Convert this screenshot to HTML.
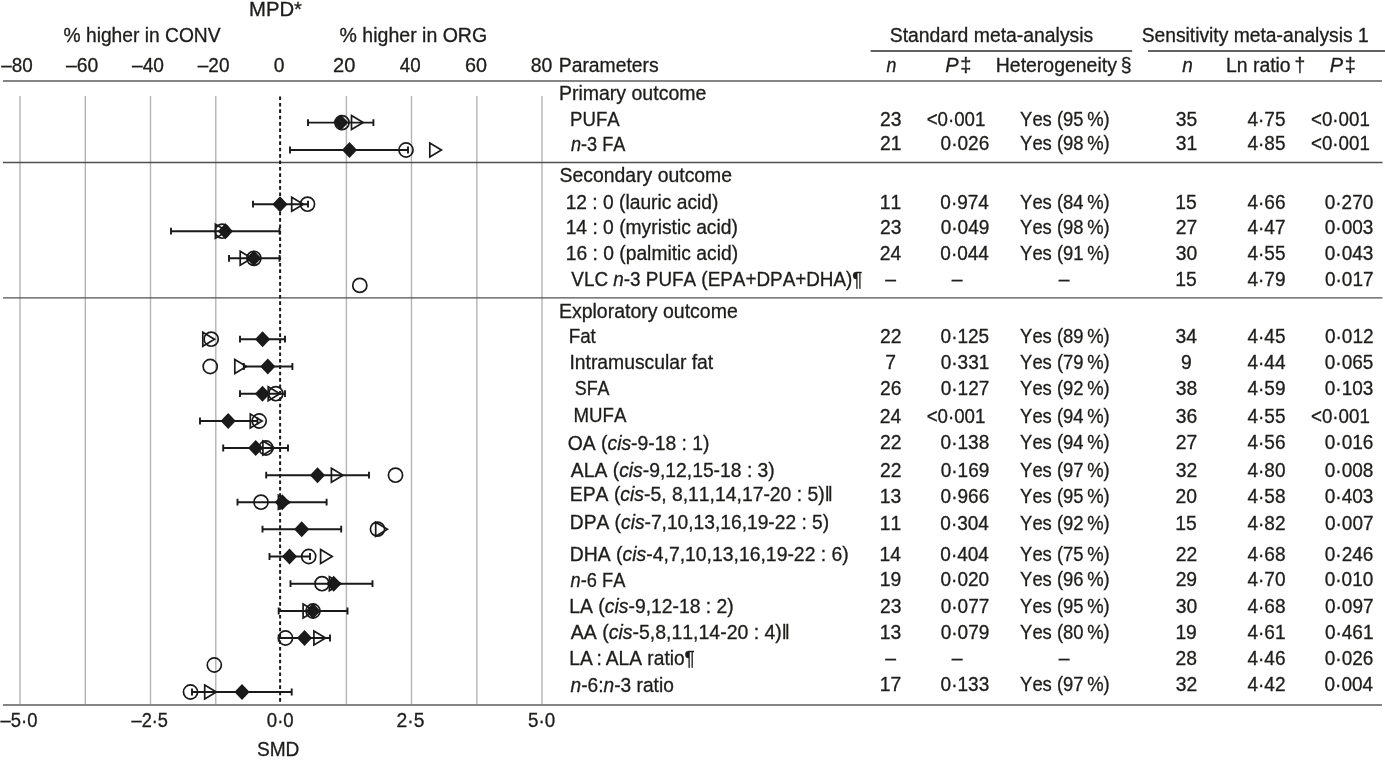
<!DOCTYPE html>
<html lang="en"><head><meta charset="utf-8"><title>Forest plot</title>
<style>
html,body{margin:0;padding:0;background:#fff;}
body{width:1385px;height:761px;overflow:hidden;}
svg{display:block;font-family:"Liberation Sans",sans-serif;}
</style></head><body>
<svg width="1385" height="761" viewBox="0 0 1385 761">
<rect width="1385" height="761" fill="#fff"/>
<g stroke="#b4b4b4" stroke-width="1.4">
<line x1="20.0" y1="96" x2="20.0" y2="705.0"/>
<line x1="85.3" y1="96" x2="85.3" y2="705.0"/>
<line x1="150.5" y1="96" x2="150.5" y2="705.0"/>
<line x1="215.8" y1="96" x2="215.8" y2="705.0"/>
<line x1="346.4" y1="96" x2="346.4" y2="705.0"/>
<line x1="411.5" y1="96" x2="411.5" y2="705.0"/>
<line x1="476.8" y1="96" x2="476.8" y2="705.0"/>
<line x1="542.0" y1="96" x2="542.0" y2="705.0"/>
</g>
<g stroke="#858585" stroke-width="1.8">
<line x1="3" y1="81" x2="1382" y2="81"/>
<line x1="3" y1="705" x2="1382" y2="705"/>
</g>
<g stroke="#505050" stroke-width="1.4">
<line x1="3" y1="162.5" x2="1382.5" y2="162.5"/>
<line x1="3" y1="297.9" x2="1382.5" y2="297.9"/>
<line x1="870.6" y1="51.1" x2="1132.2" y2="51.1" stroke="#2c2c2c" stroke-width="1.5"/>
<line x1="1148" y1="51.1" x2="1385" y2="51.1" stroke="#2c2c2c" stroke-width="1.5"/>
</g>
<line x1="280.1" y1="96.5" x2="280.1" y2="704" stroke="#1a1a1a" stroke-width="2" stroke-dasharray="3.6 2.8"/>
<g stroke="#1a1a1a" fill="none" stroke-width="1.6">
<path d="M308.0 122.6H373.4M308.0 119.2V126.0M373.4 119.2V126.0" stroke-width="1.9"/>
<path d="M333.2 122.6L340.8 114.6L348.4 122.6L340.8 130.6Z" fill="#1a1a1a" stroke="none"/>
<circle cx="342.0" cy="122.6" r="7.05" stroke-width="1.7"/>
<path d="M351.5 115.6L363.2 122.6L351.5 129.6Z" stroke-width="1.7" stroke-linejoin="miter"/>
<path d="M290.0 150.0H408.0M290.0 146.6V153.4M408.0 146.6V153.4" stroke-width="1.9"/>
<path d="M341.9 150.0L349.5 142.0L357.1 150.0L349.5 158.0Z" fill="#1a1a1a" stroke="none"/>
<circle cx="406.0" cy="150.0" r="7.05" stroke-width="1.7"/>
<path d="M429.8 143.0L441.4 150.0L429.8 157.0Z" stroke-width="1.7" stroke-linejoin="miter"/>
<path d="M253.0 204.2H308.0M253.0 200.8V207.6M308.0 200.8V207.6" stroke-width="1.9"/>
<path d="M272.4 204.2L280.0 196.2L287.6 204.2L280.0 212.2Z" fill="#1a1a1a" stroke="none"/>
<circle cx="307.5" cy="204.2" r="7.05" stroke-width="1.7"/>
<path d="M291.7 197.2L303.4 204.2L291.7 211.2Z" stroke-width="1.7" stroke-linejoin="miter"/>
<path d="M171.0 231.2H279.5M171.0 227.8V234.6M279.5 227.8V234.6" stroke-width="1.9"/>
<path d="M217.8 231.2L225.4 223.2L233.0 231.2L225.4 239.2Z" fill="#1a1a1a" stroke="none"/>
<circle cx="222.3" cy="231.2" r="7.05" stroke-width="1.7"/>
<path d="M215.4 224.2L227.1 231.2L215.4 238.2Z" stroke-width="1.7" stroke-linejoin="miter"/>
<path d="M229.0 258.3H279.5M229.0 254.9V261.7M279.5 254.9V261.7" stroke-width="1.9"/>
<path d="M246.2 258.3L253.8 250.3L261.4 258.3L253.8 266.3Z" fill="#1a1a1a" stroke="none"/>
<circle cx="253.9" cy="258.3" r="7.05" stroke-width="1.7"/>
<path d="M240.2 251.3L251.8 258.3L240.2 265.3Z" stroke-width="1.7" stroke-linejoin="miter"/>
<circle cx="359.8" cy="285.4" r="7.05" stroke-width="1.7"/>
<path d="M240.0 339.2H285.0M240.0 335.8V342.6M285.0 335.8V342.6" stroke-width="1.9"/>
<path d="M255.0 339.2L262.6 331.2L270.2 339.2L262.6 347.2Z" fill="#1a1a1a" stroke="none"/>
<circle cx="211.2" cy="339.2" r="7.05" stroke-width="1.7"/>
<path d="M202.8 332.2L214.5 339.2L202.8 346.2Z" stroke-width="1.7" stroke-linejoin="miter"/>
<path d="M243.8 366.5H292.4M243.8 363.1V369.9M292.4 363.1V369.9" stroke-width="1.9"/>
<path d="M260.2 366.5L267.8 358.5L275.4 366.5L267.8 374.5Z" fill="#1a1a1a" stroke="none"/>
<circle cx="210.2" cy="366.5" r="7.05" stroke-width="1.7"/>
<path d="M234.8 359.5L246.5 366.5L234.8 373.5Z" stroke-width="1.7" stroke-linejoin="miter"/>
<path d="M240.0 393.7H285.0M240.0 390.3V397.1M285.0 390.3V397.1" stroke-width="1.9"/>
<path d="M254.9 393.7L262.5 385.7L270.1 393.7L262.5 401.7Z" fill="#1a1a1a" stroke="none"/>
<circle cx="275.8" cy="393.7" r="7.05" stroke-width="1.7"/>
<path d="M268.2 386.7L279.9 393.7L268.2 400.7Z" stroke-width="1.7" stroke-linejoin="miter"/>
<path d="M200.0 421.0H257.5M200.0 417.6V424.4M257.5 417.6V424.4" stroke-width="1.9"/>
<path d="M220.6 421.0L228.2 413.0L235.8 421.0L228.2 429.0Z" fill="#1a1a1a" stroke="none"/>
<circle cx="259.2" cy="421.0" r="7.05" stroke-width="1.7"/>
<path d="M250.3 414.0L262.1 421.0L250.3 428.0Z" stroke-width="1.7" stroke-linejoin="miter"/>
<path d="M223.2 448.0H288.0M223.2 444.6V451.4M288.0 444.6V451.4" stroke-width="1.9"/>
<path d="M248.1 448.0L255.7 440.0L263.3 448.0L255.7 456.0Z" fill="#1a1a1a" stroke="none"/>
<circle cx="265.9" cy="448.0" r="7.05" stroke-width="1.7"/>
<path d="M262.9 441.0L274.6 448.0L262.9 455.0Z" stroke-width="1.7" stroke-linejoin="miter"/>
<path d="M266.2 475.2H369.0M266.2 471.8V478.6M369.0 471.8V478.6" stroke-width="1.9"/>
<path d="M309.9 475.2L317.5 467.2L325.1 475.2L317.5 483.2Z" fill="#1a1a1a" stroke="none"/>
<circle cx="395.5" cy="475.2" r="7.05" stroke-width="1.7"/>
<path d="M331.4 468.2L343.1 475.2L331.4 482.2Z" stroke-width="1.7" stroke-linejoin="miter"/>
<path d="M237.5 502.2H326.6M237.5 498.8V505.6M326.6 498.8V505.6" stroke-width="1.9"/>
<path d="M274.7 502.2L282.3 494.2L289.9 502.2L282.3 510.2Z" fill="#1a1a1a" stroke="none"/>
<circle cx="261.0" cy="502.2" r="7.05" stroke-width="1.7"/>
<path d="M278.4 495.2L290.1 502.2L278.4 509.2Z" stroke-width="1.7" stroke-linejoin="miter"/>
<path d="M262.5 529.2H341.2M262.5 525.8V532.6M341.2 525.8V532.6" stroke-width="1.9"/>
<path d="M294.1 529.2L301.7 521.2L309.3 529.2L301.7 537.2Z" fill="#1a1a1a" stroke="none"/>
<circle cx="377.5" cy="529.2" r="7.05" stroke-width="1.7"/>
<path d="M375.7 522.2L387.4 529.2L375.7 536.2Z" stroke-width="1.7" stroke-linejoin="miter"/>
<path d="M269.5 556.5H310.0M269.5 553.1V559.9M310.0 553.1V559.9" stroke-width="1.9"/>
<path d="M281.9 556.5L289.5 548.5L297.1 556.5L289.5 564.5Z" fill="#1a1a1a" stroke="none"/>
<circle cx="308.7" cy="556.5" r="7.05" stroke-width="1.7"/>
<path d="M320.6 549.5L332.2 556.5L320.6 563.5Z" stroke-width="1.7" stroke-linejoin="miter"/>
<path d="M290.5 583.7H372.5M290.5 580.3V587.1M372.5 580.3V587.1" stroke-width="1.9"/>
<path d="M326.1 583.7L333.7 575.7L341.3 583.7L333.7 591.7Z" fill="#1a1a1a" stroke="none"/>
<circle cx="322.0" cy="583.7" r="7.05" stroke-width="1.7"/>
<path d="M329.4 576.7L341.1 583.7L329.4 590.7Z" stroke-width="1.7" stroke-linejoin="miter"/>
<path d="M278.7 611.0H347.5M278.7 607.6V614.4M347.5 607.6V614.4" stroke-width="1.9"/>
<path d="M305.4 611.0L313.0 603.0L320.6 611.0L313.0 619.0Z" fill="#1a1a1a" stroke="none"/>
<circle cx="313.0" cy="611.0" r="7.05" stroke-width="1.7"/>
<path d="M303.1 604.0L314.8 611.0L303.1 618.0Z" stroke-width="1.7" stroke-linejoin="miter"/>
<path d="M278.7 638.0H330.0M278.7 634.6V641.4M330.0 634.6V641.4" stroke-width="1.9"/>
<path d="M296.9 638.0L304.5 630.0L312.1 638.0L304.5 646.0Z" fill="#1a1a1a" stroke="none"/>
<circle cx="285.5" cy="638.0" r="7.05" stroke-width="1.7"/>
<path d="M313.9 631.0L325.6 638.0L313.9 645.0Z" stroke-width="1.7" stroke-linejoin="miter"/>
<circle cx="214.3" cy="665.0" r="7.05" stroke-width="1.7"/>
<path d="M192.0 692.0H291.7M192.0 688.6V695.4M291.7 688.6V695.4" stroke-width="1.9"/>
<path d="M234.4 692.0L242.0 684.0L249.6 692.0L242.0 700.0Z" fill="#1a1a1a" stroke="none"/>
<circle cx="190.5" cy="692.0" r="7.05" stroke-width="1.7"/>
<path d="M204.7 685.0L216.3 692.0L204.7 699.0Z" stroke-width="1.7" stroke-linejoin="miter"/>
</g>
<g fill="#1d1d1b" stroke="#1d1d1b" stroke-width="0.3" font-size="19.3" style="font-kerning:none">
<text x="249.04" y="16.2" textLength="52.98" lengthAdjust="spacingAndGlyphs">MPD*</text>
<text x="63.51" y="41.6" textLength="157.07" lengthAdjust="spacingAndGlyphs">% higher in CONV</text>
<text x="339.60" y="41.6" textLength="147.55" lengthAdjust="spacingAndGlyphs">% higher in ORG</text>
<text x="1.30" y="71.6" textLength="31.44" lengthAdjust="spacingAndGlyphs">–80</text>
<text x="66.00" y="71.6" textLength="32.26" lengthAdjust="spacingAndGlyphs">–60</text>
<text x="132.00" y="71.6" textLength="31.95" lengthAdjust="spacingAndGlyphs">–40</text>
<text x="197.80" y="71.6" textLength="31.64" lengthAdjust="spacingAndGlyphs">–20</text>
<text x="273.75" y="71.6" textLength="10.70" lengthAdjust="spacingAndGlyphs">0</text>
<text x="332.99" y="71.6" textLength="22.29" lengthAdjust="spacingAndGlyphs">20</text>
<text x="399.87" y="71.6" textLength="20.86" lengthAdjust="spacingAndGlyphs">40</text>
<text x="465.00" y="71.6" textLength="21.97" lengthAdjust="spacingAndGlyphs">60</text>
<text x="530.66" y="71.6" textLength="21.60" lengthAdjust="spacingAndGlyphs">80</text>
<text x="558.81" y="71.6" textLength="99.88" lengthAdjust="spacingAndGlyphs">Parameters</text>
<text x="889.72" y="42.2" textLength="203.58" lengthAdjust="spacingAndGlyphs">Standard meta-analysis</text>
<text x="1141.63" y="42.2" textLength="227.02" lengthAdjust="spacingAndGlyphs">Sensitivity meta-analysis 1</text>
<text x="886.40" y="71.6" textLength="9.90" lengthAdjust="spacingAndGlyphs"><tspan font-style="italic">n</tspan></text>
<text x="945.28" y="71.6" textLength="26.17" lengthAdjust="spacingAndGlyphs"><tspan font-style="italic">P</tspan> ‡</text>
<text x="995.80" y="71.6" textLength="135.79" lengthAdjust="spacingAndGlyphs">Heterogeneity §</text>
<text x="1182.18" y="71.6" textLength="10.58" lengthAdjust="spacingAndGlyphs"><tspan font-style="italic">n</tspan></text>
<text x="1226.01" y="71.6" textLength="79.29" lengthAdjust="spacingAndGlyphs">Ln ratio †</text>
<text x="1329.69" y="71.6" textLength="26.06" lengthAdjust="spacingAndGlyphs"><tspan font-style="italic">P</tspan> ‡</text>
<text x="0.50" y="727.4" textLength="36.92" lengthAdjust="spacingAndGlyphs">–5·0</text>
<text x="131.50" y="727.4" textLength="36.47" lengthAdjust="spacingAndGlyphs">–2·5</text>
<text x="266.77" y="727.4" textLength="26.96" lengthAdjust="spacingAndGlyphs">0·0</text>
<text x="396.53" y="727.4" textLength="27.88" lengthAdjust="spacingAndGlyphs">2·5</text>
<text x="527.95" y="727.4" textLength="27.19" lengthAdjust="spacingAndGlyphs">5·0</text>
<text x="256.93" y="755.5" textLength="42.48" lengthAdjust="spacingAndGlyphs">SMD</text>
<text x="558.90" y="99.7" textLength="147.47" lengthAdjust="spacingAndGlyphs">Primary outcome</text>
<text x="570.08" y="126.2" textLength="49.56" lengthAdjust="spacingAndGlyphs">PUFA</text>
<text x="879.91" y="125.6" textLength="21.47" lengthAdjust="spacingAndGlyphs">23</text>
<text x="926.68" y="125.6" textLength="58.73" lengthAdjust="spacingAndGlyphs">&lt;0·001</text>
<text x="1020.10" y="125.6" textLength="89.65" lengthAdjust="spacingAndGlyphs">Yes (95 %)</text>
<text x="1175.70" y="125.6" textLength="21.47" lengthAdjust="spacingAndGlyphs">35</text>
<text x="1247.46" y="125.6" textLength="38.05" lengthAdjust="spacingAndGlyphs">4·75</text>
<text x="1310.97" y="125.6" textLength="58.94" lengthAdjust="spacingAndGlyphs">&lt;0·001</text>
<text x="570.90" y="150.7" textLength="54.44" lengthAdjust="spacingAndGlyphs"><tspan font-style="italic">n</tspan>-3 FA</text>
<text x="879.95" y="150.3" textLength="21.47" lengthAdjust="spacingAndGlyphs">21</text>
<text x="940.61" y="150.3" textLength="48.62" lengthAdjust="spacingAndGlyphs">0·026</text>
<text x="1020.10" y="150.3" textLength="89.65" lengthAdjust="spacingAndGlyphs">Yes (98 %)</text>
<text x="1175.77" y="150.3" textLength="21.47" lengthAdjust="spacingAndGlyphs">31</text>
<text x="1247.46" y="150.3" textLength="38.05" lengthAdjust="spacingAndGlyphs">4·85</text>
<text x="1310.97" y="150.3" textLength="58.94" lengthAdjust="spacingAndGlyphs">&lt;0·001</text>
<text x="559.62" y="181.9" textLength="172.44" lengthAdjust="spacingAndGlyphs">Secondary outcome</text>
<text x="565.64" y="208.8" textLength="152.76" lengthAdjust="spacingAndGlyphs">12 : 0 (lauric acid)</text>
<text x="879.70" y="209.0" textLength="21.47" lengthAdjust="spacingAndGlyphs">11</text>
<text x="940.34" y="209.0" textLength="48.62" lengthAdjust="spacingAndGlyphs">0·974</text>
<text x="1020.10" y="209.0" textLength="89.65" lengthAdjust="spacingAndGlyphs">Yes (84 %)</text>
<text x="1175.34" y="209.0" textLength="21.47" lengthAdjust="spacingAndGlyphs">15</text>
<text x="1247.46" y="209.0" textLength="38.05" lengthAdjust="spacingAndGlyphs">4·66</text>
<text x="1324.72" y="209.0" textLength="48.62" lengthAdjust="spacingAndGlyphs">0·270</text>
<text x="565.63" y="233.6" textLength="172.26" lengthAdjust="spacingAndGlyphs">14 : 0 (myristic acid)</text>
<text x="879.91" y="233.8" textLength="21.47" lengthAdjust="spacingAndGlyphs">23</text>
<text x="940.68" y="233.8" textLength="48.62" lengthAdjust="spacingAndGlyphs">0·049</text>
<text x="1020.10" y="233.8" textLength="89.65" lengthAdjust="spacingAndGlyphs">Yes (98 %)</text>
<text x="1175.67" y="233.8" textLength="21.47" lengthAdjust="spacingAndGlyphs">27</text>
<text x="1247.46" y="233.8" textLength="38.05" lengthAdjust="spacingAndGlyphs">4·47</text>
<text x="1324.81" y="233.8" textLength="48.62" lengthAdjust="spacingAndGlyphs">0·003</text>
<text x="565.73" y="259.5" textLength="172.36" lengthAdjust="spacingAndGlyphs">16 : 0 (palmitic acid)</text>
<text x="879.76" y="259.5" textLength="21.47" lengthAdjust="spacingAndGlyphs">24</text>
<text x="940.34" y="259.5" textLength="48.62" lengthAdjust="spacingAndGlyphs">0·044</text>
<text x="1020.10" y="259.5" textLength="89.65" lengthAdjust="spacingAndGlyphs">Yes (91 %)</text>
<text x="1175.68" y="259.5" textLength="21.47" lengthAdjust="spacingAndGlyphs">30</text>
<text x="1247.46" y="259.5" textLength="38.05" lengthAdjust="spacingAndGlyphs">4·55</text>
<text x="1324.81" y="259.5" textLength="48.62" lengthAdjust="spacingAndGlyphs">0·043</text>
<text x="571.32" y="285.6" textLength="291.18" lengthAdjust="spacingAndGlyphs">VLC <tspan font-style="italic">n</tspan>-3 PUFA (EPA+DPA+DHA)¶</text>
<text x="885.34" y="285.6" textLength="10.73" lengthAdjust="spacingAndGlyphs">–</text>
<text x="951.74" y="285.6" textLength="10.73" lengthAdjust="spacingAndGlyphs">–</text>
<text x="1058.84" y="285.6" textLength="10.73" lengthAdjust="spacingAndGlyphs">–</text>
<text x="1175.34" y="285.6" textLength="21.47" lengthAdjust="spacingAndGlyphs">15</text>
<text x="1247.46" y="285.6" textLength="38.05" lengthAdjust="spacingAndGlyphs">4·79</text>
<text x="1324.93" y="285.6" textLength="48.62" lengthAdjust="spacingAndGlyphs">0·017</text>
<text x="558.90" y="317.5" textLength="178.87" lengthAdjust="spacingAndGlyphs">Exploratory outcome</text>
<text x="568.76" y="342.5" textLength="27.07" lengthAdjust="spacingAndGlyphs">Fat</text>
<text x="879.97" y="342.5" textLength="21.47" lengthAdjust="spacingAndGlyphs">22</text>
<text x="940.58" y="342.5" textLength="48.62" lengthAdjust="spacingAndGlyphs">0·125</text>
<text x="1020.10" y="342.5" textLength="89.65" lengthAdjust="spacingAndGlyphs">Yes (89 %)</text>
<text x="1175.58" y="342.5" textLength="21.47" lengthAdjust="spacingAndGlyphs">34</text>
<text x="1247.46" y="342.5" textLength="38.05" lengthAdjust="spacingAndGlyphs">4·45</text>
<text x="1324.93" y="342.5" textLength="48.62" lengthAdjust="spacingAndGlyphs">0·012</text>
<text x="569.42" y="368.8" textLength="143.82" lengthAdjust="spacingAndGlyphs">Intramuscular fat</text>
<text x="885.32" y="369.2" textLength="10.73" lengthAdjust="spacingAndGlyphs">7</text>
<text x="940.71" y="369.2" textLength="48.62" lengthAdjust="spacingAndGlyphs">0·331</text>
<text x="1020.10" y="369.2" textLength="89.65" lengthAdjust="spacingAndGlyphs">Yes (79 %)</text>
<text x="1181.04" y="369.2" textLength="10.73" lengthAdjust="spacingAndGlyphs">9</text>
<text x="1247.46" y="369.2" textLength="38.05" lengthAdjust="spacingAndGlyphs">4·44</text>
<text x="1324.78" y="369.2" textLength="48.62" lengthAdjust="spacingAndGlyphs">0·065</text>
<text x="574.79" y="395.1" textLength="34.75" lengthAdjust="spacingAndGlyphs">SFA</text>
<text x="879.91" y="394.7" textLength="21.47" lengthAdjust="spacingAndGlyphs">26</text>
<text x="940.73" y="394.7" textLength="48.62" lengthAdjust="spacingAndGlyphs">0·127</text>
<text x="1020.10" y="394.7" textLength="89.65" lengthAdjust="spacingAndGlyphs">Yes (92 %)</text>
<text x="1175.72" y="394.7" textLength="21.47" lengthAdjust="spacingAndGlyphs">38</text>
<text x="1247.46" y="394.7" textLength="38.05" lengthAdjust="spacingAndGlyphs">4·59</text>
<text x="1324.81" y="394.7" textLength="48.62" lengthAdjust="spacingAndGlyphs">0·103</text>
<text x="573.47" y="422.3" textLength="52.87" lengthAdjust="spacingAndGlyphs">MUFA</text>
<text x="879.76" y="422.9" textLength="21.47" lengthAdjust="spacingAndGlyphs">24</text>
<text x="926.68" y="422.9" textLength="58.73" lengthAdjust="spacingAndGlyphs">&lt;0·001</text>
<text x="1020.10" y="422.9" textLength="89.65" lengthAdjust="spacingAndGlyphs">Yes (94 %)</text>
<text x="1175.72" y="422.9" textLength="21.47" lengthAdjust="spacingAndGlyphs">36</text>
<text x="1247.46" y="422.9" textLength="38.05" lengthAdjust="spacingAndGlyphs">4·55</text>
<text x="1310.97" y="422.9" textLength="58.94" lengthAdjust="spacingAndGlyphs">&lt;0·001</text>
<text x="567.78" y="449.8" textLength="141.71" lengthAdjust="spacingAndGlyphs">OA (<tspan font-style="italic">cis</tspan>-9-18 : 1)</text>
<text x="879.97" y="449.2" textLength="21.47" lengthAdjust="spacingAndGlyphs">22</text>
<text x="940.60" y="449.2" textLength="48.62" lengthAdjust="spacingAndGlyphs">0·138</text>
<text x="1020.10" y="449.2" textLength="89.65" lengthAdjust="spacingAndGlyphs">Yes (94 %)</text>
<text x="1175.67" y="449.2" textLength="21.47" lengthAdjust="spacingAndGlyphs">27</text>
<text x="1247.46" y="449.2" textLength="38.05" lengthAdjust="spacingAndGlyphs">4·56</text>
<text x="1324.81" y="449.2" textLength="48.62" lengthAdjust="spacingAndGlyphs">0·016</text>
<text x="570.86" y="476.7" textLength="203.94" lengthAdjust="spacingAndGlyphs">ALA (<tspan font-style="italic">cis</tspan>-9,12,15-18 : 3)</text>
<text x="879.97" y="476.9" textLength="21.47" lengthAdjust="spacingAndGlyphs">22</text>
<text x="940.68" y="476.9" textLength="48.62" lengthAdjust="spacingAndGlyphs">0·169</text>
<text x="1020.10" y="476.9" textLength="89.65" lengthAdjust="spacingAndGlyphs">Yes (97 %)</text>
<text x="1175.78" y="476.9" textLength="21.47" lengthAdjust="spacingAndGlyphs">32</text>
<text x="1247.46" y="476.9" textLength="38.05" lengthAdjust="spacingAndGlyphs">4·80</text>
<text x="1324.80" y="476.9" textLength="48.62" lengthAdjust="spacingAndGlyphs">0·008</text>
<text x="569.81" y="501.3" textLength="262.88" lengthAdjust="spacingAndGlyphs">EPA (<tspan font-style="italic">cis</tspan>-5, 8,11,14,17-20 : 5)‖</text>
<text x="879.66" y="502.5" textLength="21.47" lengthAdjust="spacingAndGlyphs">13</text>
<text x="940.61" y="502.5" textLength="48.62" lengthAdjust="spacingAndGlyphs">0·966</text>
<text x="1020.10" y="502.5" textLength="89.65" lengthAdjust="spacingAndGlyphs">Yes (95 %)</text>
<text x="1175.56" y="502.5" textLength="21.47" lengthAdjust="spacingAndGlyphs">20</text>
<text x="1247.46" y="502.5" textLength="38.05" lengthAdjust="spacingAndGlyphs">4·58</text>
<text x="1324.81" y="502.5" textLength="48.62" lengthAdjust="spacingAndGlyphs">0·403</text>
<text x="569.82" y="529.4" textLength="259.37" lengthAdjust="spacingAndGlyphs">DPA (<tspan font-style="italic">cis</tspan>-7,10,13,16,19-22 : 5)</text>
<text x="879.70" y="529.8" textLength="21.47" lengthAdjust="spacingAndGlyphs">11</text>
<text x="940.34" y="529.8" textLength="48.62" lengthAdjust="spacingAndGlyphs">0·304</text>
<text x="1020.10" y="529.8" textLength="89.65" lengthAdjust="spacingAndGlyphs">Yes (92 %)</text>
<text x="1175.34" y="529.8" textLength="21.47" lengthAdjust="spacingAndGlyphs">15</text>
<text x="1247.46" y="529.8" textLength="38.05" lengthAdjust="spacingAndGlyphs">4·82</text>
<text x="1324.93" y="529.8" textLength="48.62" lengthAdjust="spacingAndGlyphs">0·007</text>
<text x="569.81" y="560.5" textLength="278.99" lengthAdjust="spacingAndGlyphs">DHA (<tspan font-style="italic">cis</tspan>-4,7,10,13,16,19-22 : 6)</text>
<text x="879.51" y="560.5" textLength="21.47" lengthAdjust="spacingAndGlyphs">14</text>
<text x="940.34" y="560.5" textLength="48.62" lengthAdjust="spacingAndGlyphs">0·404</text>
<text x="1020.10" y="560.5" textLength="89.65" lengthAdjust="spacingAndGlyphs">Yes (75 %)</text>
<text x="1175.67" y="560.5" textLength="21.47" lengthAdjust="spacingAndGlyphs">22</text>
<text x="1247.46" y="560.5" textLength="38.05" lengthAdjust="spacingAndGlyphs">4·68</text>
<text x="1324.81" y="560.5" textLength="48.62" lengthAdjust="spacingAndGlyphs">0·246</text>
<text x="570.60" y="586.8" textLength="54.74" lengthAdjust="spacingAndGlyphs"><tspan font-style="italic">n</tspan>-6 FA</text>
<text x="879.69" y="586.4" textLength="21.47" lengthAdjust="spacingAndGlyphs">19</text>
<text x="940.52" y="586.4" textLength="48.62" lengthAdjust="spacingAndGlyphs">0·020</text>
<text x="1020.10" y="586.4" textLength="89.65" lengthAdjust="spacingAndGlyphs">Yes (96 %)</text>
<text x="1175.64" y="586.4" textLength="21.47" lengthAdjust="spacingAndGlyphs">29</text>
<text x="1247.46" y="586.4" textLength="38.05" lengthAdjust="spacingAndGlyphs">4·70</text>
<text x="1324.72" y="586.4" textLength="48.62" lengthAdjust="spacingAndGlyphs">0·010</text>
<text x="569.31" y="613.0" textLength="164.49" lengthAdjust="spacingAndGlyphs">LA (<tspan font-style="italic">cis</tspan>-9,12-18 : 2)</text>
<text x="879.91" y="612.8" textLength="21.47" lengthAdjust="spacingAndGlyphs">23</text>
<text x="940.73" y="612.8" textLength="48.62" lengthAdjust="spacingAndGlyphs">0·077</text>
<text x="1020.10" y="612.8" textLength="89.65" lengthAdjust="spacingAndGlyphs">Yes (95 %)</text>
<text x="1175.68" y="612.8" textLength="21.47" lengthAdjust="spacingAndGlyphs">30</text>
<text x="1247.46" y="612.8" textLength="38.05" lengthAdjust="spacingAndGlyphs">4·68</text>
<text x="1324.93" y="612.8" textLength="48.62" lengthAdjust="spacingAndGlyphs">0·097</text>
<text x="570.86" y="638.5" textLength="219.04" lengthAdjust="spacingAndGlyphs">AA (<tspan font-style="italic">cis</tspan>-5,8,11,14-20 : 4)‖</text>
<text x="879.66" y="638.5" textLength="21.47" lengthAdjust="spacingAndGlyphs">13</text>
<text x="940.68" y="638.5" textLength="48.62" lengthAdjust="spacingAndGlyphs">0·079</text>
<text x="1020.10" y="638.5" textLength="89.65" lengthAdjust="spacingAndGlyphs">Yes (80 %)</text>
<text x="1175.39" y="638.5" textLength="21.47" lengthAdjust="spacingAndGlyphs">19</text>
<text x="1247.46" y="638.5" textLength="38.05" lengthAdjust="spacingAndGlyphs">4·61</text>
<text x="1324.91" y="638.5" textLength="48.62" lengthAdjust="spacingAndGlyphs">0·461</text>
<text x="569.33" y="665.0" textLength="125.59" lengthAdjust="spacingAndGlyphs">LA : ALA ratio¶</text>
<text x="885.34" y="664.6" textLength="10.73" lengthAdjust="spacingAndGlyphs">–</text>
<text x="951.74" y="664.6" textLength="10.73" lengthAdjust="spacingAndGlyphs">–</text>
<text x="1058.84" y="664.6" textLength="10.73" lengthAdjust="spacingAndGlyphs">–</text>
<text x="1175.60" y="664.6" textLength="21.47" lengthAdjust="spacingAndGlyphs">28</text>
<text x="1247.46" y="664.6" textLength="38.05" lengthAdjust="spacingAndGlyphs">4·46</text>
<text x="1324.81" y="664.6" textLength="48.62" lengthAdjust="spacingAndGlyphs">0·026</text>
<text x="570.58" y="691.6" textLength="103.22" lengthAdjust="spacingAndGlyphs"><tspan font-style="italic">n</tspan>-6:<tspan font-style="italic">n</tspan>-3 ratio</text>
<text x="879.72" y="690.8" textLength="21.47" lengthAdjust="spacingAndGlyphs">17</text>
<text x="940.61" y="690.8" textLength="48.62" lengthAdjust="spacingAndGlyphs">0·133</text>
<text x="1020.10" y="690.8" textLength="89.65" lengthAdjust="spacingAndGlyphs">Yes (97 %)</text>
<text x="1175.78" y="690.8" textLength="21.47" lengthAdjust="spacingAndGlyphs">32</text>
<text x="1247.46" y="690.8" textLength="38.05" lengthAdjust="spacingAndGlyphs">4·42</text>
<text x="1324.54" y="690.8" textLength="48.62" lengthAdjust="spacingAndGlyphs">0·004</text>
</g>
</svg>
</body></html>
